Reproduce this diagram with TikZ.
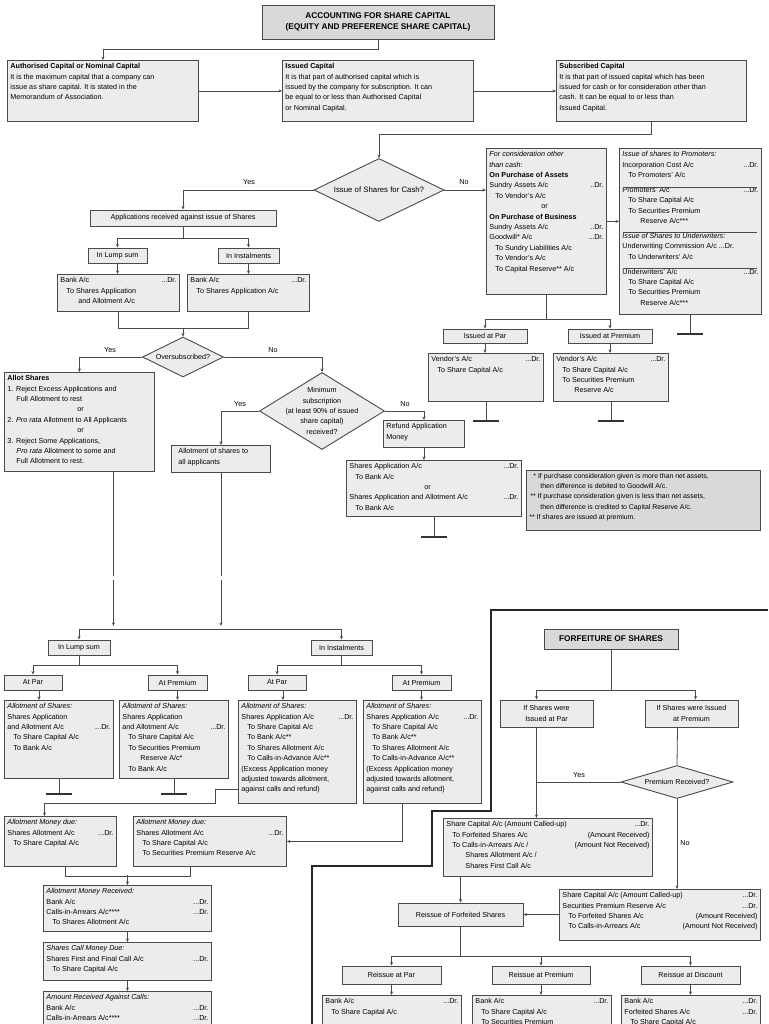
\documentclass[tikz,border=0pt]{standalone}
\usepackage{fontspec}
\setmainfont{Liberation Sans}
\usetikzlibrary{arrows.meta,shapes.geometric,calc}
\definecolor{bfill}{HTML}{ECECEC}
\definecolor{dfill}{HTML}{D9D9D9}
\definecolor{bline}{HTML}{4A4A4A}
\newcommand\Ia{\hspace*{6pt}}
\newcommand\Ib{\hspace*{12pt}}
\tikzset{
 box/.style={draw=bline,fill=bfill,line width=0.9pt,inner sep=3pt,font=\fontsize{7.2}{10.4}\selectfont},
 dark/.style={fill=dfill},
 con/.style={draw=bline,line width=0.8pt},
 arr/.style={con,-{Stealth[length=3.5pt,width=3pt]}},
 lbl/.style={font=\fontsize{7.2}{9}\selectfont,inner sep=1pt},
 dia/.style={diamond,draw=bline,fill=bfill,line width=0.9pt,inner sep=0pt},
 frame/.style={draw=black!85,line width=1.8pt},
 bar/.style={draw=black!80,line width=1.6pt}
}
\newcommand\tbx[7][]{%
 \pgfmathsetmacro\bw{#5-6}\pgfmathsetmacro\bh{#6-6}%
 \node[box,#1,anchor=north west,minimum width=#5pt,minimum height=#6pt] (#2) at (#3,#4)
  {\parbox[t][\bh pt][t]{\bw pt}{\raggedright #7}};}
\newcommand\lbx[7][]{%
 \pgfmathsetmacro\sw{#5-#3}\pgfmathsetmacro\sh{#6-#4}%
 \node[box,#1,inner sep=1pt,align=center,minimum width=\sw pt,minimum height=\sh pt] (#2) at ({(#3+#5)/2},{(#4+#6)/2}) {#7};}
\newcommand\term[2]{\draw[con] (#1.south) -- ++(0,#2) coordinate (#1t); \draw[bar] ($(#1t)+(-13,0)$) -- ($(#1t)+(13,0)$);}
\begin{document}
\begin{tikzpicture}[x=1pt,y=-1pt]
\useasboundingbox (0,0) rectangle (768,1024);
\clip (0,0) rectangle (768,1024);
% ---------- top
\lbx[dark,font=\fontsize{8.3}{11}\selectfont\bfseries]{title}{262}{5}{494}{39}{ACCOUNTING FOR SHARE CAPITAL\\(EQUITY AND PREFERENCE SHARE CAPITAL)}
\tbx{auth}{7}{60}{191}{61}{\textbf{Authorised Capital or Nominal Capital}\\It is the maximum capital that a company can\\issue as share capital. It is stated in the\\Memorandum of Association.}
\tbx{issued}{282}{60}{191}{61}{\textbf{Issued Capital}\\It is that part of authorised capital which is\\issued by the company for subscription. It can\\be equal to or less than Authorised Capital\\or Nominal Capital.}
\tbx{subs}{556}{60}{190}{61}{\textbf{Subscribed Capital}\\It is that part of issued capital which has been\\issued for cash or for consideration other than\\cash. It can be equal to or less than\\Issued Capital.}
\node[dia,minimum width=130pt,minimum height=63pt] (cash) at (379,190) {};
\node[lbl,font=\fontsize{7.8}{9}\selectfont] (cashl) at (cash) {Issue of Shares for Cash?};
\lbx{apps}{90}{210}{276}{226}{Applications received against issue of Shares}
\lbx{lump1}{88}{248}{147}{263}{In Lump sum}
\lbx{inst1}{218}{248}{279}{263}{In Instalments}
\tbx{bank1}{57}{274}{122}{37}{Bank A/c\hfill...Dr.\\\Ia To Shares Application\\\Ib\Ia and Allotment A/c}
\tbx{bank2}{187}{274}{122}{37}{Bank A/c\hfill...Dr.\\\Ia To Shares Application A/c}
\tbx{cons}{486}{148}{120}{146}{\textit{For consideration other}\\\textit{than cash:}\\\textbf{On Purchase of Assets}\\Sundry Assets A/c\hfill..Dr.\\\Ia To Vendor's A/c\\\hspace*{52pt}or\\\textbf{On Purchase of Business}\\Sundry Assets A/c\hfill..Dr.\\Goodwill* A/c\hfill...Dr.\\\Ia To Sundry Liabilities A/c\\\Ia To Vendor's A/c\\\Ia To Capital Reserve** A/c}
\tbx{prom}{619}{148}{142}{166}{\textit{Issue of shares to Promoters:}\\Incorporation Cost A/c\hfill...Dr.\\\Ia To Promoters' A/c\\[4.5pt]Promoters' A/c\hfill...Dr.\\\Ia To Share Capital A/c\\\Ia To Securities Premium\\\Ib\Ia Reserve A/c***\\[4.5pt]\textit{Issue of Shares to Underwriters:}\\Underwriting Commission A/c ...Dr.\\\Ia To Underwriters' A/c\\[4.5pt]Underwriters' A/c\hfill...Dr.\\\Ia To Share Capital A/c\\\Ia To Securities Premium\\\Ib\Ia Reserve A/c***}
\draw[con] ($(prom.north west)+(4,39)$) -- ++(134,0);
\draw[con] ($(prom.north west)+(4,84)$) -- ++(134,0);
\draw[con] ($(prom.north west)+(4,120)$) -- ++(134,0);
\lbx{ipar}{443}{329}{527}{343}{Issued at Par}
\lbx{iprem}{568}{329}{652}{343}{Issued at Premium}
\tbx{ven1}{428}{353}{115}{48}{Vendor's A/c\hfill...Dr.\\\Ia To Share Capital A/c}
\tbx{ven2}{553}{353}{115}{48}{Vendor's A/c\hfill...Dr.\\\Ia To Share Capital A/c\\\Ia To Securities Premium\\\Ib\Ia Reserve A/c}
\node[dia,minimum width=81pt,minimum height=40pt] (over) at (183,357) {};
\node[lbl] (overl) at (over) {Oversubscribed?};
\tbx{allot}{4}{372}{150}{99}{\textbf{Allot Shares}\\1. Reject Excess Applications and\\\hspace*{9pt}Full Allotment to rest\\\hspace*{70pt}or\\2. \textit{Pro rata} Allotment to All Applicants\\\hspace*{70pt}or\\3. Reject Some Applications,\\\hspace*{9pt}\textit{Pro rata} Allotment to some and\\\hspace*{9pt}Full Allotment to rest.}
\node[dia,minimum width=125pt,minimum height=77pt] (mind) at (322,411) {};
\node[lbl,align=center,font=\fontsize{7.2}{10.4}\selectfont] (mindl) at (mind) {Minimum\\subscription\\(at least 90\% of issued\\share capital)\\received?};
\tbx{allsh}{171}{445}{99}{27}{\hspace*{4pt}Allotment of shares to\\\hspace*{4pt}all applicants}
\tbx{refund}{383}{420}{81}{27}{Refund Application\\Money}
\tbx{sapp}{346}{460}{175}{56}{Shares Application A/c\hfill...Dr.\\\Ia To Bank A/c\\\hspace*{75pt}or\\Shares Application and Allotment A/c\hfill...Dr.\\\Ia To Bank A/c}
\tbx[dark,font=\fontsize{6.9}{10.2}\selectfont]{foot}{526}{470}{234}{60}{\hspace*{4pt}* If purchase consideration given is more than net assets,\\\hspace*{11pt}then difference is debited to Goodwill A/c.\\\hspace*{1pt}** If purchase consideration given is less than net assets,\\\hspace*{11pt}then difference is credited to Capital Reserve A/c.\\*** If shares are issued at premium.}
% ---------- lower left
\lbx{lump2}{48}{640}{110}{655}{In Lump sum}
\lbx{inst2}{311}{640}{372}{655}{In Instalments}
\lbx{par1}{4}{675}{62}{690}{At Par}
\lbx{prem1}{148}{675}{207}{690}{At Premium}
\lbx{par2}{248}{675}{306}{690}{At Par}
\lbx{prem2}{392}{675}{451}{690}{At Premium}
\tbx{a1}{4}{700}{109}{78}{\textit{Allotment of Shares:}\\Shares Application\\and Allotment A/c\hfill...Dr.\\\Ia To Share Capital A/c\\\Ia To Bank A/c}
\tbx{a2}{119}{700}{109}{78}{\textit{Allotment of Shares:}\\Shares Application\\and Allotment A/c\hfill...Dr.\\\Ia To Share Capital A/c\\\Ia To Securities Premium\\\Ib\Ia Reserve A/c*\\\Ia To Bank A/c}
\tbx{a3}{238}{700}{118}{103}{\textit{Allotment of Shares:}\\Shares Application A/c\hfill...Dr.\\\Ia To Share Capital A/c\\\Ia To Bank A/c**\\\Ia To Shares Allotment A/c\\\Ia To Calls-in-Advance A/c**\\(Excess Application money\\adjusted towards allotment,\\against calls and refund)}
\tbx{a4}{363}{700}{118}{103}{\textit{Allotment of Shares:}\\Shares Application A/c\hfill...Dr.\\\Ia To Share Capital A/c\\\Ia To Bank A/c**\\\Ia To Shares Allotment A/c\\\Ia To Calls-in-Advance A/c**\\(Excess Application money\\adjusted towards allotment,\\against calls and refund)}
\tbx{amd1}{4}{816}{112}{50}{\textit{Allotment Money due:}\\Shares Allotment A/c\hfill...Dr.\\\Ia To Share Capital A/c}
\tbx{amd2}{133}{816}{153}{50}{\textit{Allotment Money due:}\\Shares Allotment A/c\hfill...Dr.\\\Ia To Share Capital A/c\\\Ia To Securities Premium Reserve A/c}
\tbx{amr}{43}{885}{168}{46}{\textit{Allotment Money Received:}\\Bank A/c\hfill...Dr.\\Calls-in-Arrears A/c****\hfill...Dr.\\\Ia To Shares Allotment A/c}
\tbx{scm}{43}{942}{168}{38}{\textit{Shares Call Money Due:}\\Shares First and Final Call A/c\hfill...Dr.\\\Ia To Share Capital A/c}
\tbx{arc}{43}{991}{168}{46}{\textit{Amount Received Against Calls:}\\Bank A/c\hfill...Dr.\\Calls-in-Arrears A/c****\hfill...Dr.}
% ---------- forfeiture
\draw[frame] (768,610) -- (491,610) -- (491,811) -- (432,811) -- (432,866) -- (312,866) -- (312,1030);
\lbx[dark,font=\fontsize{8.3}{10}\selectfont\bfseries]{ftitle}{544}{629}{678}{649}{FORFEITURE OF SHARES}
\lbx[align=left]{fpar}{500}{700}{593}{727}{If Shares were\\Issued at Par}
\lbx[align=left]{fprem}{645}{700}{738}{727}{If Shares were Issued\\at Premium}
\node[dia,minimum width=112pt,minimum height=33pt] (pdiam) at (677,782) {};
\node[lbl] (pdiaml) at (pdiam) {Premium Received?};
\tbx{sc1}{443}{818}{209}{58}{Share Capital A/c (Amount Called-up)\hfill...Dr.\\\Ia To Forfeited Shares A/c\hfill(Amount Received)\\\Ia To Calls-in-Arrears A/c /\hfill(Amount Not Received)\\\hspace*{19pt}Shares Allotment A/c /\\\hspace*{19pt}Shares First Call A/c}
\tbx{sc2}{559}{889}{201}{51}{Share Capital A/c (Amount Called-up)\hfill...Dr.\\Securities Premium Reserve A/c\hfill...Dr.\\\Ia To Forfeited Shares A/c\hfill(Amount Received)\\\Ia To Calls-in-Arrears A/c\hfill(Amount Not Received)}
\lbx{reiss}{398}{903}{523}{926}{Reissue of Forfeited Shares}
\lbx{rpar}{342}{966}{441}{984}{Reissue at Par}
\lbx{rprem}{492}{966}{590}{984}{Reissue at Premium}
\lbx{rdisc}{641}{966}{740}{984}{Reissue at Discount}
\tbx{b1}{322}{995}{139}{40}{Bank A/c\hfill...Dr.\\\Ia To Share Capital A/c}
\tbx{b2}{472}{995}{139}{40}{Bank A/c\hfill...Dr.\\\Ia To Share Capital A/c\\\Ia To Securities Premium}
\tbx{b3}{621}{995}{139}{40}{Bank A/c\hfill...Dr.\\Forfeited Shares A/c\hfill...Dr.\\\Ia To Share Capital A/c}
% ---------- labels
\node[lbl] (y1) at (249,182) {Yes};
\node[lbl] (n1) at (464,182) {No};
\node[lbl] (y2) at (110,350) {Yes};
\node[lbl] (n2) at (273,350) {No};
\node[lbl] (y3) at (240,404) {Yes};
\node[lbl] (n3) at (405,404) {No};
\node[lbl] (y4) at (579,775) {Yes};
\node[lbl] (n4) at (685,843) {No};
% ---------- connectors
\draw[arr] (title.south) -- ++(0,10) -| (auth.north);
\draw[arr] (auth.east) -- (issued.west);
\draw[arr] (issued.east) -- (subs.west);
\draw[arr] (subs.south) -- ++(0,13) -| (cash.north);
\draw[arr] (cash.west) -| (apps.north);
\draw[arr] (cash.east) -- (cons.west|-cash.east);
\draw[arr] (cons.east) -- (prom.west|-cons.east);
\draw[con] (apps.south) -- ++(0,12) coordinate (s1);
\draw[arr] (s1) -| (lump1.north);
\draw[arr] (s1) -| (inst1.north);
\draw[arr] (lump1.south) -- (lump1.south|-bank1.north);
\draw[arr] (inst1.south) -- (inst1.south|-bank2.north);
\draw[con] (bank1.south) -- ++(0,16) -| (bank2.south);
\draw[arr] (over.north|-bank1.south) ++(0,16) -- (over.north);
\draw[con] (cons.south) -- ++(0,24) coordinate (s2);
\draw[arr] (s2) -| (ipar.north);
\draw[arr] (s2) -| (iprem.north);
\term{prom}{19}
\draw[arr] (ipar.south) -- (ipar.south|-ven1.north);
\draw[arr] (iprem.south) -- (iprem.south|-ven2.north);
\term{ven1}{19}
\term{ven2}{19}
\draw[arr] (over.west) -| (allot.north);
\draw[arr] (over.east) -| (mind.north);
\draw[arr] (mind.west) -| (allsh.north);
\draw[arr] (mind.east) -| (refund.north);
\draw[arr] (refund.south) -- (refund.south|-sapp.north);
\term{sapp}{20}
\coordinate (h2) at (79,629);
\draw[con] ([xshift=34pt]allot.south) -- ++(0,104);
\draw[arr] ([xshift=34pt]allot.south) ++(0,108) -- ++(0,46);
\draw[con] (allsh.south) -- ++(0,103);
\draw[arr] (allsh.south) ++(0,107) -- ++(0,46);
\draw[con] (lump2.north|-h2) -- (inst2.north|-h2);
\draw[arr] (lump2.north|-h2) -- (lump2.north);
\draw[arr] (inst2.north|-h2) -- (inst2.north);
\draw[con] (lump2.south) -- ++(0,10) coordinate (s5);
\draw[arr] (s5) -| (par1.north);
\draw[arr] (s5) -| (prem1.north);
\draw[con] (inst2.south) -- ++(0,10) coordinate (s6);
\draw[arr] (s6) -| (par2.north);
\draw[arr] (s6) -| (prem2.north);
\draw[arr] ([xshift=6pt]par1.south) -- ([xshift=6pt]par1.south|-a1.north);
\draw[arr] (prem1.south) -- (prem1.south|-a2.north);
\draw[arr] ([xshift=6pt]par2.south) -- ([xshift=6pt]par2.south|-a3.north);
\draw[arr] (prem2.south) -- (prem2.south|-a4.north);
\term{a1}{15}
\term{a2}{15}
\draw[arr] ($(a3.south west)+(0,-15)$) -| ++(-23,14) -| ([xshift=-16pt]amd1.north);
\draw[arr] ([xshift=-20pt]a4.south) |- (amd2.east);
\draw[con] ([xshift=5pt]amd1.south) -- ++(0,9) -| ([xshift=-20pt]amd2.south);
\draw[arr] (amr.north) ++(0,-10) -- (amr.north);
\draw[arr] (amr.south) -- (scm.north);
\draw[arr] (scm.south) -- (arc.north);
\draw[con] (ftitle.south) -- ++(0,41) coordinate (s3);
\draw[arr] (s3) -| ([xshift=-10pt]fpar.north);
\draw[arr] (s3) -| ([xshift=4pt]fprem.north);
\draw[arr] ([xshift=-10pt]fpar.south) -- ([xshift=-10pt]fpar.south|-sc1.north);
\draw[con] ([xshift=-14pt]fprem.south) -- (pdiam.north);
\draw[con] (pdiam.west) -- ([xshift=-10pt]fpar.south|-pdiam.west);
\draw[arr] (pdiam.south) -- (pdiam.south|-sc2.north);
\draw[arr] (sc1.south west-|reiss.north) -- (reiss.north);
\draw[arr] (sc2.west|-reiss.east) -- (reiss.east);
\draw[con] (reiss.south) -- ++(0,30) coordinate (s4);
\draw[arr] (s4) -| (rpar.north);
\draw[arr] (s4) -- (rprem.north|-s4) -- (rprem.north);
\draw[arr] (s4) -| (rdisc.north);
\draw[arr] (rpar.south) -- (rpar.south|-b1.north);
\draw[arr] (rprem.south) -- (rprem.south|-b2.north);
\draw[arr] (rdisc.south) -- (rdisc.south|-b3.north);
\end{tikzpicture}
\end{document}
